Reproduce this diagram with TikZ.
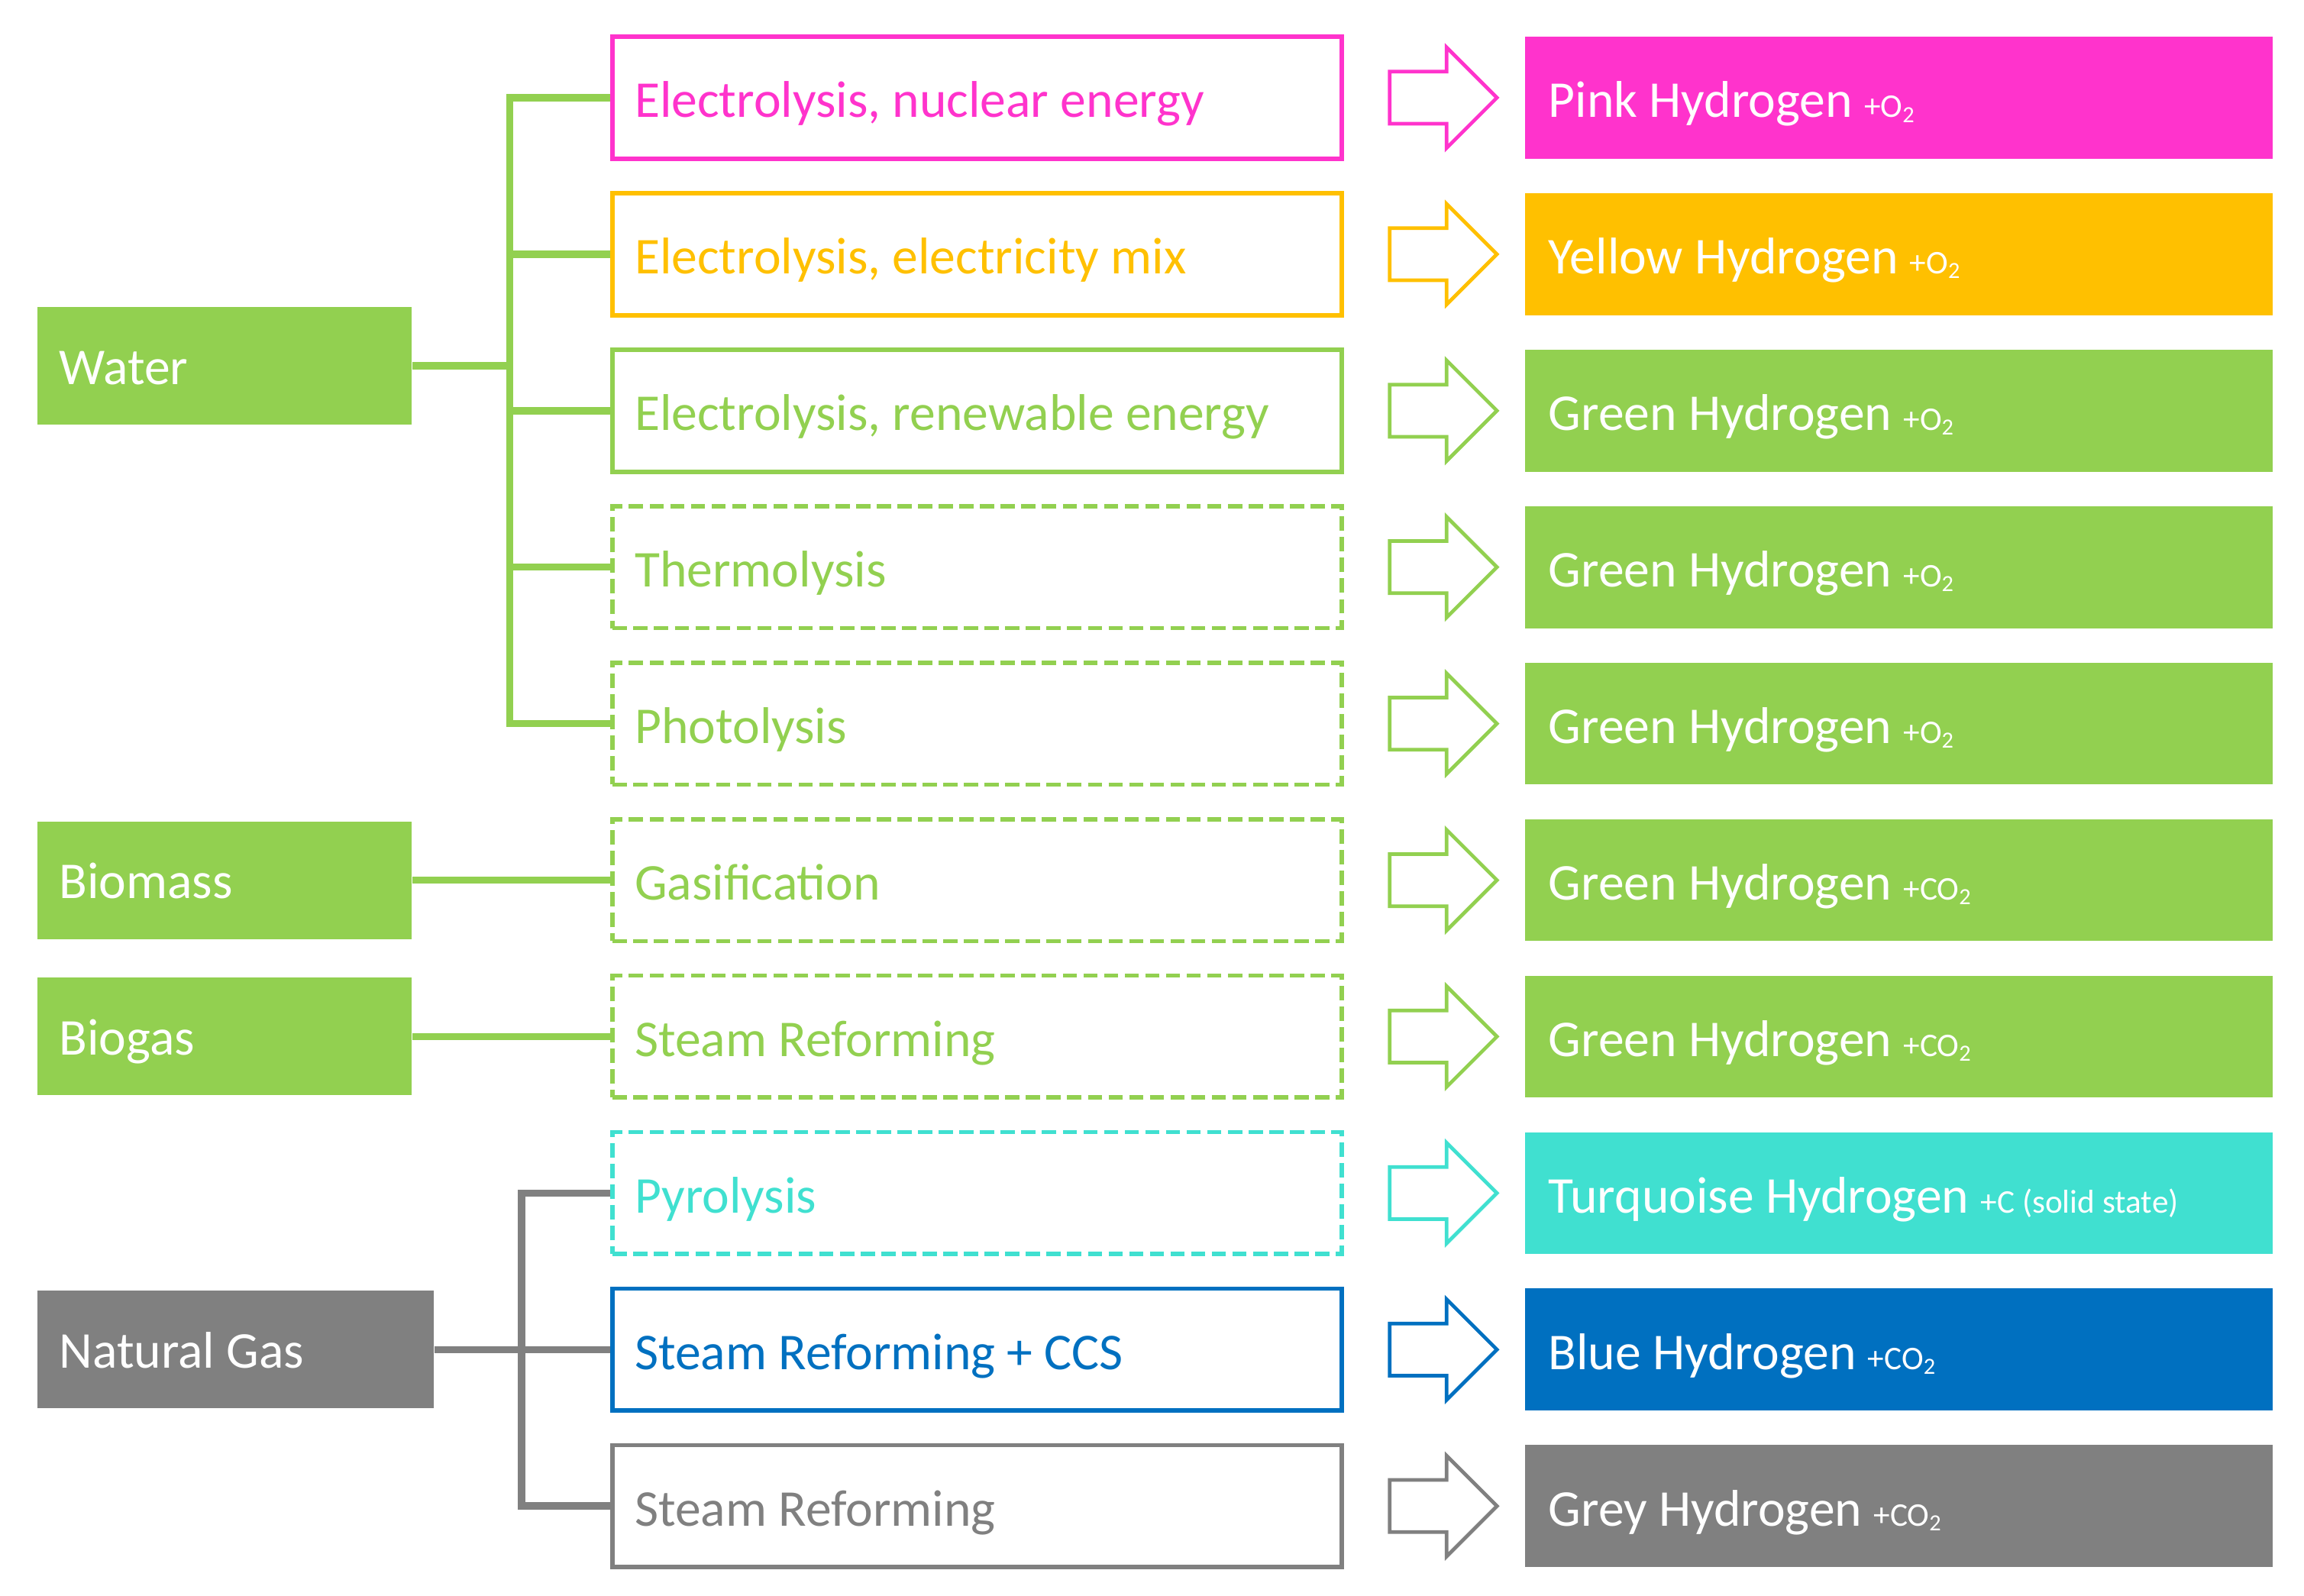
\documentclass[tikz,border=0pt]{standalone}
\usepackage{fontspec}
\setmainfont{Carlito}
\usetikzlibrary{
    positioning,
    shapes.arrows
}
\definecolor{pinkH}{RGB}{255,51,204}
\definecolor{yellowH}{RGB}{255,192,0}
\definecolor{greenH}{RGB}{146,208,80}
\definecolor{turqH}{RGB}{64,224,208}
\definecolor{blueH}{RGB}{0,112,192}
\definecolor{greyH}{RGB}{128,128,128}
\tikzset{
  boxtext/.style = {execute at begin node={\spaceskip=0pt\xspaceskip=0pt}},
  src/.style    = {boxtext, fill=#1, text=white, minimum height=1.6cm, text width=4.5cm,
                   inner xsep=0.3cm, text height=0.6cm, text depth=0.1cm, anchor=west},
  proc/.style   = {boxtext, draw=#1, text=#1, line width=1.7pt, minimum height=1.66cm,
                   text width=9.32cm, inner xsep=0.3cm, text height=0.62cm, text depth=0.08cm},
  dproc/.style  = {proc=#1, dash pattern=on 5.5pt off 2.5pt},
  harrow/.style = {single arrow, draw=#1, line width=1.4pt, minimum height=1.46cm,
                   inner xsep=0pt, inner ysep=0.33cm, single arrow head extend=0.33cm},
  prod/.style   = {boxtext, fill=#1, text=white, minimum height=1.66cm, text width=9.54cm,
                   inner xsep=0.32cm, text height=0.62cm, text depth=0.08cm},
  link/.style   = {draw=#1, line width=2.8pt}
}
\newcommand{\byprod}[1]{{\fontsize{12.8}{14}\selectfont +#1}}

\begin{document}
\begin{tikzpicture}[every node/.style={font=\fontsize{20}{24}\selectfont}]
  \useasboundingbox (0,0) rectangle (31.36,-21.72);

  % Feedstocks
  \node[src=greenH] (water) at (0.5,-4.98) {Water};
  \node[src=greenH] (biomass) at (0.5,-11.98) {Biomass};
  \node[src=greenH] (biogas) at (0.5,-14.11) {Biogas};
  \node[src=greyH, text width=4.8cm] (ngas) at (0.5,-18.37) {Natural Gas};

  % Processes
  \node[proc=pinkH] (nuclear) at (13.3,-1.33) {Electrolysis, nuclear energy};
  \node[proc=yellowH] (mix) at (13.3,-3.46) {Electrolysis, electricity mix};
  \node[proc=greenH] (renew) at (13.3,-5.59) {Electrolysis, renewable energy};
  \node[dproc=greenH] (thermo) at (13.3,-7.72) {Thermolysis};
  \node[dproc=greenH] (photo) at (13.3,-9.85) {Photolysis};
  \node[dproc=greenH] (gasif) at (13.3,-11.98) {Gasification};
  \node[dproc=greenH] (bioref) at (13.3,-14.11) {Steam Reforming};
  \node[dproc=turqH] (pyro) at (13.3,-16.24) {Pyrolysis};
  \node[proc=blueH] (ccs) at (13.3,-18.37) {Steam Reforming + CCS};
  \node[proc=greyH] (smr) at (13.3,-20.50) {Steam Reforming};

  % Block arrows
  \node[harrow=pinkH, right=0.6cm of nuclear] (a1) {};
  \node[harrow=yellowH, right=0.6cm of mix] (a2) {};
  \node[harrow=greenH, right=0.6cm of renew] (a3) {};
  \node[harrow=greenH, right=0.6cm of thermo] (a4) {};
  \node[harrow=greenH, right=0.6cm of photo] (a5) {};
  \node[harrow=greenH, right=0.6cm of gasif] (a6) {};
  \node[harrow=greenH, right=0.6cm of bioref] (a7) {};
  \node[harrow=turqH, right=0.6cm of pyro] (a8) {};
  \node[harrow=blueH, right=0.6cm of ccs] (a9) {};
  \node[harrow=greyH, right=0.6cm of smr] (a10) {};

  % Hydrogen colours
  \node[prod=pinkH, right=0.34cm of a1] (pink) {Pink Hydrogen \byprod{O\textsubscript{2}}};
  \node[prod=yellowH, right=0.34cm of a2] (yellow) {Yellow Hydrogen \byprod{O\textsubscript{2}}};
  \node[prod=greenH, right=0.34cm of a3] (greenA) {Green Hydrogen \byprod{O\textsubscript{2}}};
  \node[prod=greenH, right=0.34cm of a4] (greenB) {Green Hydrogen \byprod{O\textsubscript{2}}};
  \node[prod=greenH, right=0.34cm of a5] (greenC) {Green Hydrogen \byprod{O\textsubscript{2}}};
  \node[prod=greenH, right=0.34cm of a6] (greenD) {Green Hydrogen \byprod{CO\textsubscript{2}}};
  \node[prod=greenH, right=0.34cm of a7] (greenE) {Green Hydrogen \byprod{CO\textsubscript{2}}};
  \node[prod=turqH, right=0.34cm of a8] (turq) {Turquoise Hydrogen \byprod{C (solid state)}};
  \node[prod=blueH, right=0.34cm of a9] (blue) {Blue Hydrogen \byprod{CO\textsubscript{2}}};
  \node[prod=greyH, right=0.34cm of a10] (grey) {Grey Hydrogen \byprod{CO\textsubscript{2}}};

  % Water tree
  \coordinate (wj) at (6.94,0);
  \draw[link=greenH] (water.east) -- (water.east -| wj);
  \draw[link=greenH] (nuclear.west) -| (photo.west -| wj) -- (photo.west);
  \draw[link=greenH] (mix.west) -- (mix.west -| wj);
  \draw[link=greenH] (renew.west) -- (renew.west -| wj);
  \draw[link=greenH] (thermo.west) -- (thermo.west -| wj);

  % Biomass and biogas
  \draw[link=greenH] (biomass.east) -- (gasif.west);
  \draw[link=greenH] (biogas.east) -- (bioref.west);

  % Natural gas tree
  \coordinate (gj) at (7.1,0);
  \draw[link=greyH] (ngas.east) -- (ccs.west);
  \draw[link=greyH] (pyro.west) -| (smr.west -| gj) -- (smr.west);
\end{tikzpicture}
\end{document}
